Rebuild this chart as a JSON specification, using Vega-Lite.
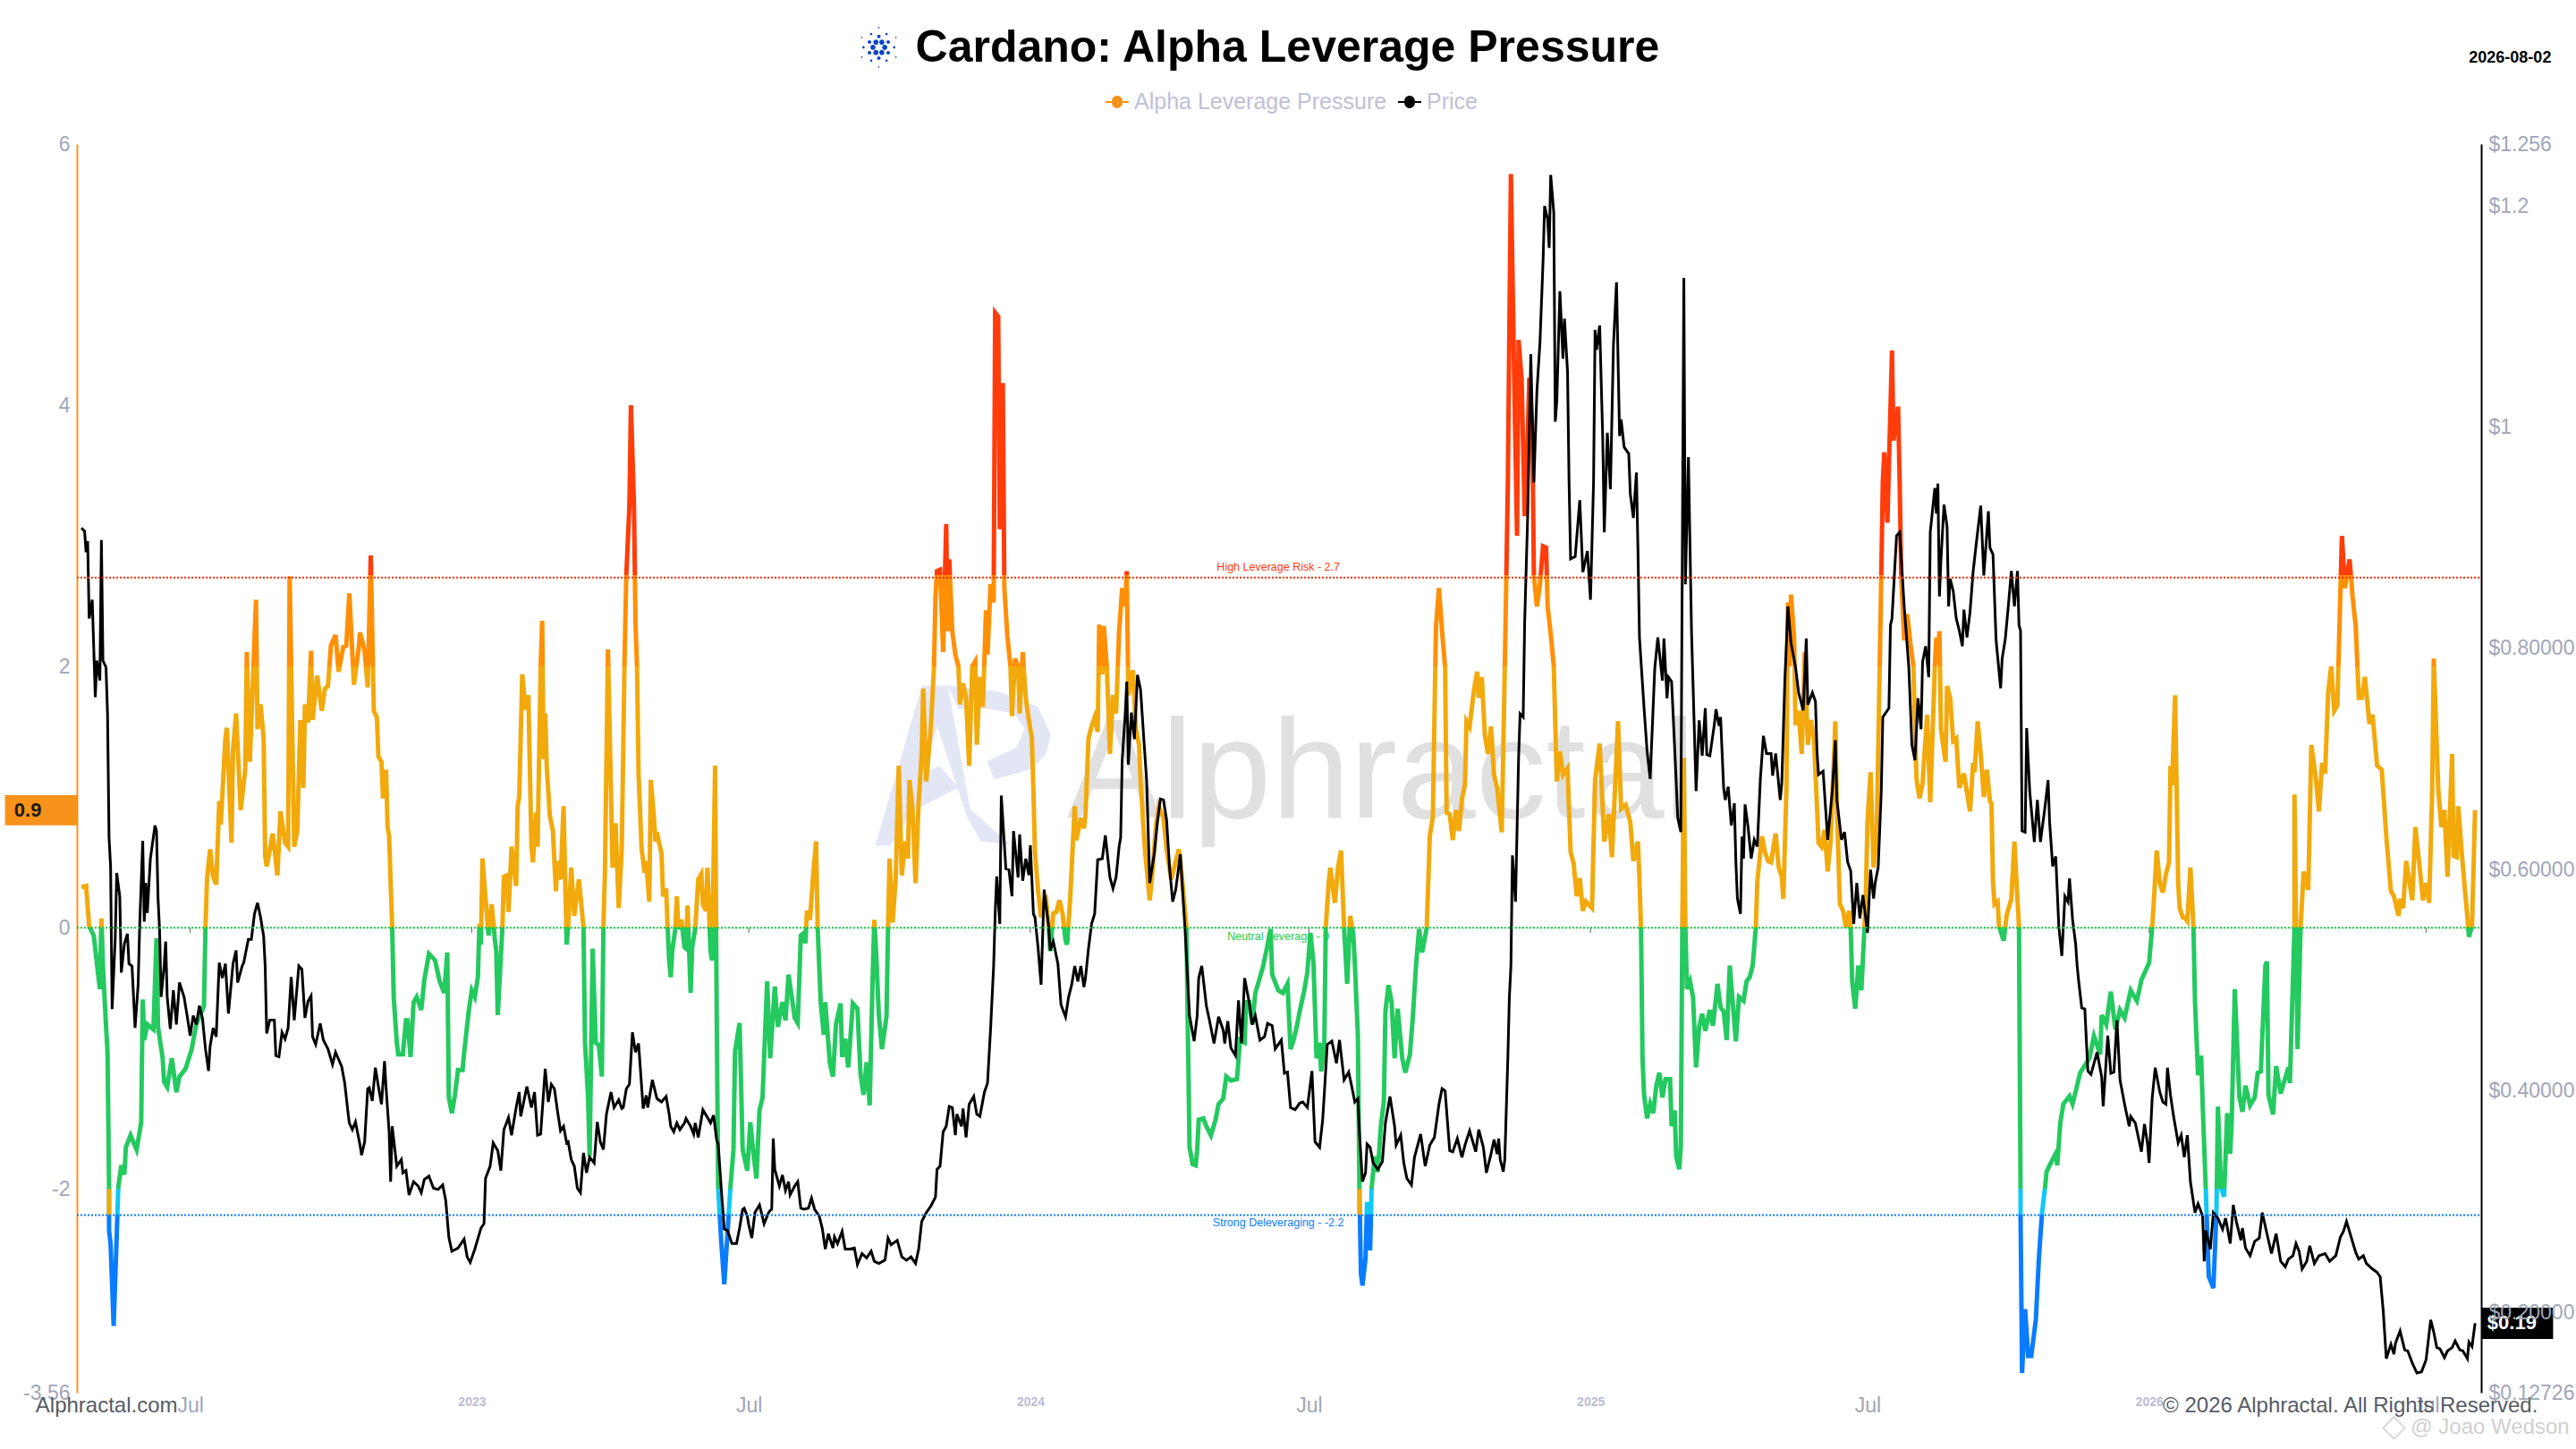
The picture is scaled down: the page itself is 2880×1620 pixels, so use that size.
{"$schema":"https://vega.github.io/schema/vega-lite/v6.json","width":2688,"height":1396,"autosize":{"type":"none"},"padding":{"left":86,"top":161,"right":106,"bottom":63},"background":"white",
"config":{"view":{"stroke":null},"font":"Liberation Sans"},
"datasets":{
"alpha":[{"date":"2022-04-21","value":0.31},{"date":"2022-04-24","value":0.32},{"date":"2022-04-26","value":0.01},{"date":"2022-04-29","value":-0.06},{"date":"2022-05-01","value":-0.27},{"date":"2022-05-03","value":-0.47},{"date":"2022-05-04","value":0.07},{"date":"2022-05-05","value":-0.29},{"date":"2022-05-07","value":-0.75},{"date":"2022-05-08","value":-0.95},{"date":"2022-05-09","value":-1.99},{"date":"2022-05-09","value":-2.32},{"date":"2022-05-10","value":-2.42},{"date":"2022-05-12","value":-3.05},{"date":"2022-05-14","value":-2.36},{"date":"2022-05-15","value":-1.99},{"date":"2022-05-17","value":-1.82},{"date":"2022-05-19","value":-1.89},{"date":"2022-05-20","value":-1.68},{"date":"2022-05-23","value":-1.59},{"date":"2022-05-27","value":-1.7},{"date":"2022-05-30","value":-1.49},{"date":"2022-05-31","value":-0.55},{"date":"2022-06-01","value":-0.86},{"date":"2022-06-03","value":-0.74},{"date":"2022-06-07","value":-0.78},{"date":"2022-06-09","value":-0.08},{"date":"2022-06-10","value":-0.76},{"date":"2022-06-13","value":-1.0},{"date":"2022-06-14","value":-1.18},{"date":"2022-06-16","value":-1.22},{"date":"2022-06-19","value":-1.0},{"date":"2022-06-22","value":-1.26},{"date":"2022-06-24","value":-1.14},{"date":"2022-06-28","value":-1.08},{"date":"2022-07-02","value":-0.93},{"date":"2022-07-05","value":-0.74},{"date":"2022-07-10","value":-0.6},{"date":"2022-07-11","value":0},{"date":"2022-07-12","value":0.37},{"date":"2022-07-14","value":0.6},{"date":"2022-07-16","value":0.39},{"date":"2022-07-18","value":0.33},{"date":"2022-07-20","value":0.97},{"date":"2022-07-21","value":0.79},{"date":"2022-07-24","value":1.45},{"date":"2022-07-25","value":1.53},{"date":"2022-07-28","value":0.65},{"date":"2022-07-29","value":1.36},{"date":"2022-07-31","value":1.64},{"date":"2022-08-03","value":0.9},{"date":"2022-08-06","value":1.21},{"date":"2022-08-07","value":2.11},{"date":"2022-08-09","value":1.27},{"date":"2022-08-13","value":2.51},{"date":"2022-08-14","value":1.52},{"date":"2022-08-16","value":1.71},{"date":"2022-08-18","value":1.45},{"date":"2022-08-19","value":0.55},{"date":"2022-08-20","value":0.47},{"date":"2022-08-24","value":0.72},{"date":"2022-08-27","value":0.4},{"date":"2022-08-29","value":0.89},{"date":"2022-09-01","value":0.65},{"date":"2022-09-03","value":0.62},{"date":"2022-09-04","value":2.69},{"date":"2022-09-07","value":0.62},{"date":"2022-09-09","value":0.74},{"date":"2022-09-11","value":1.59},{"date":"2022-09-13","value":1.07},{"date":"2022-09-14","value":1.71},{"date":"2022-09-16","value":1.57},{"date":"2022-09-18","value":2.12},{"date":"2022-09-19","value":1.59},{"date":"2022-09-22","value":1.93},{"date":"2022-09-25","value":1.66},{"date":"2022-09-27","value":1.83},{"date":"2022-09-29","value":1.85},{"date":"2022-10-01","value":2.16},{"date":"2022-10-04","value":2.24},{"date":"2022-10-06","value":1.96},{"date":"2022-10-09","value":2.15},{"date":"2022-10-11","value":2.16},{"date":"2022-10-13","value":2.56},{"date":"2022-10-16","value":1.86},{"date":"2022-10-19","value":2.13},{"date":"2022-10-20","value":2.26},{"date":"2022-10-23","value":2.12},{"date":"2022-10-25","value":1.84},{"date":"2022-10-27","value":2.85},{"date":"2022-10-29","value":1.66},{"date":"2022-10-31","value":1.61},{"date":"2022-11-01","value":1.31},{"date":"2022-11-03","value":1.27},{"date":"2022-11-04","value":0.99},{"date":"2022-11-06","value":1.21},{"date":"2022-11-07","value":0.77},{"date":"2022-11-08","value":0.7},{"date":"2022-11-10","value":0},{"date":"2022-11-11","value":-0.53},{"date":"2022-11-13","value":-0.88},{"date":"2022-11-14","value":-0.97},{"date":"2022-11-17","value":-0.97},{"date":"2022-11-19","value":-0.71},{"date":"2022-11-20","value":-0.71},{"date":"2022-11-22","value":-0.99},{"date":"2022-11-24","value":-0.57},{"date":"2022-11-26","value":-0.53},{"date":"2022-11-29","value":-0.63},{"date":"2022-12-01","value":-0.4},{"date":"2022-12-04","value":-0.2},{"date":"2022-12-08","value":-0.25},{"date":"2022-12-11","value":-0.41},{"date":"2022-12-14","value":-0.5},{"date":"2022-12-16","value":-0.19},{"date":"2022-12-17","value":-1.3},{"date":"2022-12-19","value":-1.42},{"date":"2022-12-21","value":-1.28},{"date":"2022-12-23","value":-1.09},{"date":"2022-12-26","value":-1.09},{"date":"2022-12-27","value":-0.96},{"date":"2022-12-30","value":-0.64},{"date":"2023-01-01","value":-0.48},{"date":"2023-01-03","value":-0.53},{"date":"2023-01-05","value":-0.38},{"date":"2023-01-06","value":0.03},{"date":"2023-01-07","value":-0.13},{"date":"2023-01-08","value":0.53},{"date":"2023-01-10","value":0.22},{"date":"2023-01-12","value":-0.06},{"date":"2023-01-14","value":0.18},{"date":"2023-01-16","value":-0.08},{"date":"2023-01-17","value":-0.18},{"date":"2023-01-18","value":-0.67},{"date":"2023-01-21","value":0},{"date":"2023-01-22","value":0.39},{"date":"2023-01-24","value":0.4},{"date":"2023-01-25","value":0.12},{"date":"2023-01-27","value":0.62},{"date":"2023-01-30","value":0.32},{"date":"2023-01-31","value":0.93},{"date":"2023-02-01","value":1.0},{"date":"2023-02-03","value":1.94},{"date":"2023-02-05","value":1.67},{"date":"2023-02-07","value":1.78},{"date":"2023-02-09","value":0.62},{"date":"2023-02-10","value":0.5},{"date":"2023-02-12","value":0.88},{"date":"2023-02-13","value":0.62},{"date":"2023-02-15","value":1.99},{"date":"2023-02-16","value":2.35},{"date":"2023-02-17","value":1.29},{"date":"2023-02-18","value":1.64},{"date":"2023-02-19","value":1.23},{"date":"2023-02-21","value":0.86},{"date":"2023-02-23","value":0.74},{"date":"2023-02-25","value":0.28},{"date":"2023-02-26","value":0.51},{"date":"2023-02-28","value":0.37},{"date":"2023-03-02","value":0.93},{"date":"2023-03-04","value":-0.13},{"date":"2023-03-05","value":0.01},{"date":"2023-03-07","value":0.46},{"date":"2023-03-09","value":0.09},{"date":"2023-03-12","value":0.37},{"date":"2023-03-13","value":0.25},{"date":"2023-03-15","value":0},{"date":"2023-03-16","value":-0.88},{"date":"2023-03-18","value":-1.3},{"date":"2023-03-19","value":-1.75},{"date":"2023-03-21","value":-0.16},{"date":"2023-03-23","value":-0.88},{"date":"2023-03-25","value":-0.9},{"date":"2023-03-27","value":-1.14},{"date":"2023-03-28","value":0},{"date":"2023-03-29","value":0.42},{"date":"2023-03-31","value":2.13},{"date":"2023-04-03","value":0.46},{"date":"2023-04-05","value":0.8},{"date":"2023-04-07","value":0.15},{"date":"2023-04-09","value":0.6},{"date":"2023-04-11","value":2.16},{"date":"2023-04-12","value":2.7},{"date":"2023-04-14","value":3.23},{"date":"2023-04-15","value":4.0},{"date":"2023-04-17","value":3.23},{"date":"2023-04-18","value":2.32},{"date":"2023-04-19","value":1.99},{"date":"2023-04-20","value":1.17},{"date":"2023-04-22","value":0.6},{"date":"2023-04-24","value":0.42},{"date":"2023-04-25","value":0.51},{"date":"2023-04-27","value":0.2},{"date":"2023-04-28","value":1.13},{"date":"2023-04-30","value":0.85},{"date":"2023-05-01","value":0.66},{"date":"2023-05-02","value":0.73},{"date":"2023-05-03","value":0.67},{"date":"2023-05-05","value":0.57},{"date":"2023-05-06","value":0.24},{"date":"2023-05-08","value":0.3},{"date":"2023-05-09","value":0},{"date":"2023-05-10","value":-0.25},{"date":"2023-05-11","value":-0.38},{"date":"2023-05-12","value":-0.18},{"date":"2023-05-14","value":-0.01},{"date":"2023-05-15","value":0.24},{"date":"2023-05-16","value":-0.01},{"date":"2023-05-18","value":0.06},{"date":"2023-05-20","value":-0.15},{"date":"2023-05-21","value":-0.16},{"date":"2023-05-22","value":0.17},{"date":"2023-05-24","value":-0.5},{"date":"2023-05-25","value":-0.15},{"date":"2023-05-27","value":-0.01},{"date":"2023-05-29","value":0.37},{"date":"2023-05-31","value":0.41},{"date":"2023-06-01","value":0.18},{"date":"2023-06-03","value":0.13},{"date":"2023-06-04","value":0.46},{"date":"2023-06-06","value":-0.18},{"date":"2023-06-07","value":-0.25},{"date":"2023-06-09","value":1.24},{"date":"2023-06-10","value":-0.6},{"date":"2023-06-11","value":-1.99},{"date":"2023-06-13","value":-2.4},{"date":"2023-06-15","value":-2.73},{"date":"2023-06-17","value":-2.36},{"date":"2023-06-19","value":-1.99},{"date":"2023-06-21","value":-1.7},{"date":"2023-06-22","value":-0.95},{"date":"2023-06-25","value":-0.73},{"date":"2023-06-27","value":-1.7},{"date":"2023-06-30","value":-1.86},{"date":"2023-07-02","value":-1.49},{"date":"2023-07-04","value":-1.72},{"date":"2023-07-06","value":-1.92},{"date":"2023-07-08","value":-1.4},{"date":"2023-07-10","value":-1.3},{"date":"2023-07-13","value":-0.41},{"date":"2023-07-15","value":-1.0},{"date":"2023-07-18","value":-0.45},{"date":"2023-07-20","value":-0.76},{"date":"2023-07-23","value":-0.57},{"date":"2023-07-25","value":-0.71},{"date":"2023-07-27","value":-0.36},{"date":"2023-07-31","value":-0.69},{"date":"2023-08-02","value":-0.73},{"date":"2023-08-04","value":-0.06},{"date":"2023-08-06","value":-0.04},{"date":"2023-08-07","value":-0.12},{"date":"2023-08-08","value":0.13},{"date":"2023-08-10","value":0.06},{"date":"2023-08-12","value":0.39},{"date":"2023-08-14","value":0.66},{"date":"2023-08-15","value":0},{"date":"2023-08-17","value":-0.57},{"date":"2023-08-19","value":-0.82},{"date":"2023-08-20","value":-0.57},{"date":"2023-08-23","value":-1.04},{"date":"2023-08-25","value":-1.14},{"date":"2023-08-27","value":-0.74},{"date":"2023-08-30","value":-0.58},{"date":"2023-08-31","value":-0.99},{"date":"2023-09-02","value":-0.85},{"date":"2023-09-04","value":-1.07},{"date":"2023-09-07","value":-0.58},{"date":"2023-09-10","value":-0.62},{"date":"2023-09-12","value":-1.12},{"date":"2023-09-14","value":-1.28},{"date":"2023-09-16","value":-1.03},{"date":"2023-09-18","value":-1.36},{"date":"2023-09-20","value":-0.36},{"date":"2023-09-21","value":0.06},{"date":"2023-09-22","value":-0.13},{"date":"2023-09-24","value":-0.67},{"date":"2023-09-26","value":-0.93},{"date":"2023-09-29","value":-0.68},{"date":"2023-09-30","value":0},{"date":"2023-10-01","value":0.53},{"date":"2023-10-03","value":0.04},{"date":"2023-10-05","value":0.37},{"date":"2023-10-07","value":1.24},{"date":"2023-10-09","value":0.4},{"date":"2023-10-11","value":0.66},{"date":"2023-10-13","value":0.53},{"date":"2023-10-14","value":1.13},{"date":"2023-10-16","value":0.91},{"date":"2023-10-18","value":0.34},{"date":"2023-10-20","value":0.96},{"date":"2023-10-22","value":1.33},{"date":"2023-10-23","value":1.83},{"date":"2023-10-25","value":1.12},{"date":"2023-10-28","value":1.54},{"date":"2023-10-30","value":1.99},{"date":"2023-10-31","value":2.53},{"date":"2023-11-01","value":2.73},{"date":"2023-11-03","value":2.74},{"date":"2023-11-05","value":2.11},{"date":"2023-11-07","value":3.09},{"date":"2023-11-08","value":2.27},{"date":"2023-11-09","value":2.82},{"date":"2023-11-11","value":2.27},{"date":"2023-11-13","value":2.09},{"date":"2023-11-15","value":2.0},{"date":"2023-11-16","value":1.71},{"date":"2023-11-18","value":1.87},{"date":"2023-11-20","value":1.76},{"date":"2023-11-22","value":1.24},{"date":"2023-11-24","value":2.0},{"date":"2023-11-26","value":2.04},{"date":"2023-11-27","value":1.4},{"date":"2023-11-29","value":1.92},{"date":"2023-12-01","value":1.69},{"date":"2023-12-03","value":2.43},{"date":"2023-12-04","value":2.09},{"date":"2023-12-06","value":2.63},{"date":"2023-12-08","value":2.49},{"date":"2023-12-09","value":4.71},{"date":"2023-12-11","value":4.68},{"date":"2023-12-12","value":3.05},{"date":"2023-12-14","value":4.17},{"date":"2023-12-15","value":2.6},{"date":"2023-12-17","value":2.23},{"date":"2023-12-19","value":2.0},{"date":"2023-12-20","value":1.62},{"date":"2023-12-22","value":2.06},{"date":"2023-12-24","value":2.0},{"date":"2023-12-25","value":1.64},{"date":"2023-12-27","value":2.11},{"date":"2023-12-29","value":1.76},{"date":"2023-12-31","value":1.59},{"date":"2024-01-02","value":1.45},{"date":"2024-01-03","value":1.05},{"date":"2024-01-04","value":0.58},{"date":"2024-01-06","value":0.29},{"date":"2024-01-08","value":0.08},{"date":"2024-01-11","value":0.25},{"date":"2024-01-13","value":0},{"date":"2024-01-14","value":-0.18},{"date":"2024-01-16","value":0.11},{"date":"2024-01-18","value":0.12},{"date":"2024-01-20","value":0.21},{"date":"2024-01-22","value":0.11},{"date":"2024-01-24","value":-0.1},{"date":"2024-01-25","value":-0.13},{"date":"2024-01-27","value":0.22},{"date":"2024-01-30","value":0.93},{"date":"2024-01-31","value":0.67},{"date":"2024-02-03","value":0.84},{"date":"2024-02-05","value":0.76},{"date":"2024-02-06","value":0.86},{"date":"2024-02-08","value":1.45},{"date":"2024-02-10","value":1.54},{"date":"2024-02-12","value":1.61},{"date":"2024-02-14","value":1.5},{"date":"2024-02-15","value":2.32},{"date":"2024-02-17","value":1.94},{"date":"2024-02-18","value":2.31},{"date":"2024-02-20","value":1.99},{"date":"2024-02-22","value":1.33},{"date":"2024-02-24","value":1.78},{"date":"2024-02-26","value":1.64},{"date":"2024-02-28","value":2.27},{"date":"2024-03-01","value":2.6},{"date":"2024-03-03","value":2.46},{"date":"2024-03-04","value":2.73},{"date":"2024-03-05","value":1.78},{"date":"2024-03-08","value":1.97},{"date":"2024-03-10","value":1.52},{"date":"2024-03-12","value":1.4},{"date":"2024-03-13","value":1.12},{"date":"2024-03-16","value":0.58},{"date":"2024-03-19","value":0.21},{"date":"2024-03-21","value":0.46},{"date":"2024-03-23","value":0.77},{"date":"2024-03-25","value":0.93},{"date":"2024-03-28","value":0.84},{"date":"2024-03-30","value":0.6},{"date":"2024-04-02","value":0.37},{"date":"2024-04-07","value":0.6},{"date":"2024-04-09","value":0.39},{"date":"2024-04-12","value":0},{"date":"2024-04-13","value":-0.86},{"date":"2024-04-14","value":-1.68},{"date":"2024-04-16","value":-1.81},{"date":"2024-04-18","value":-1.82},{"date":"2024-04-19","value":-1.7},{"date":"2024-04-20","value":-1.47},{"date":"2024-04-23","value":-1.46},{"date":"2024-04-25","value":-1.52},{"date":"2024-04-28","value":-1.59},{"date":"2024-05-01","value":-1.47},{"date":"2024-05-03","value":-1.35},{"date":"2024-05-06","value":-1.31},{"date":"2024-05-08","value":-1.14},{"date":"2024-05-11","value":-1.17},{"date":"2024-05-15","value":-1.16},{"date":"2024-05-17","value":-0.86},{"date":"2024-05-20","value":-0.88},{"date":"2024-05-21","value":-0.57},{"date":"2024-05-23","value":-0.57},{"date":"2024-05-25","value":-0.74},{"date":"2024-05-27","value":-0.5},{"date":"2024-05-30","value":-0.38},{"date":"2024-06-01","value":-0.3},{"date":"2024-06-04","value":-0.13},{"date":"2024-06-06","value":-0.01},{"date":"2024-06-07","value":-0.36},{"date":"2024-06-11","value":-0.48},{"date":"2024-06-14","value":-0.5},{"date":"2024-06-17","value":-0.43},{"date":"2024-06-19","value":-0.93},{"date":"2024-06-21","value":-0.86},{"date":"2024-06-23","value":-0.76},{"date":"2024-06-25","value":-0.64},{"date":"2024-06-28","value":-0.48},{"date":"2024-06-30","value":-0.34},{"date":"2024-07-02","value":-0.04},{"date":"2024-07-04","value":-0.27},{"date":"2024-07-06","value":-1.0},{"date":"2024-07-08","value":-0.88},{"date":"2024-07-09","value":-1.1},{"date":"2024-07-11","value":-0.95},{"date":"2024-07-12","value":0},{"date":"2024-07-14","value":0.35},{"date":"2024-07-15","value":0.46},{"date":"2024-07-18","value":0.19},{"date":"2024-07-20","value":0.46},{"date":"2024-07-22","value":0.59},{"date":"2024-07-24","value":0},{"date":"2024-07-26","value":-0.43},{"date":"2024-07-28","value":0.09},{"date":"2024-07-30","value":-0.05},{"date":"2024-07-31","value":-0.27},{"date":"2024-08-02","value":-0.83},{"date":"2024-08-03","value":-1.99},{"date":"2024-08-04","value":-2.65},{"date":"2024-08-05","value":-2.74},{"date":"2024-08-07","value":-2.53},{"date":"2024-08-08","value":-2.1},{"date":"2024-08-09","value":-2.34},{"date":"2024-08-10","value":-2.47},{"date":"2024-08-11","value":-1.99},{"date":"2024-08-13","value":-1.75},{"date":"2024-08-15","value":-1.87},{"date":"2024-08-17","value":-1.52},{"date":"2024-08-19","value":-1.33},{"date":"2024-08-20","value":-0.64},{"date":"2024-08-22","value":-0.44},{"date":"2024-08-24","value":-0.57},{"date":"2024-08-26","value":-1.0},{"date":"2024-08-28","value":-0.62},{"date":"2024-08-31","value":-1.0},{"date":"2024-09-02","value":-1.11},{"date":"2024-09-05","value":-0.97},{"date":"2024-09-07","value":-0.67},{"date":"2024-09-09","value":-0.29},{"date":"2024-09-11","value":-0.01},{"date":"2024-09-13","value":-0.19},{"date":"2024-09-16","value":0},{"date":"2024-09-18","value":0.7},{"date":"2024-09-20","value":0.85},{"date":"2024-09-22","value":2.3},{"date":"2024-09-24","value":2.6},{"date":"2024-09-26","value":2.27},{"date":"2024-09-28","value":1.99},{"date":"2024-09-29","value":0.88},{"date":"2024-10-01","value":0.87},{"date":"2024-10-03","value":0.67},{"date":"2024-10-05","value":0.9},{"date":"2024-10-07","value":0.74},{"date":"2024-10-09","value":0.98},{"date":"2024-10-11","value":1.1},{"date":"2024-10-12","value":1.58},{"date":"2024-10-14","value":1.54},{"date":"2024-10-17","value":1.83},{"date":"2024-10-19","value":1.96},{"date":"2024-10-20","value":1.76},{"date":"2024-10-22","value":1.92},{"date":"2024-10-24","value":1.47},{"date":"2024-10-26","value":1.33},{"date":"2024-10-28","value":1.54},{"date":"2024-10-30","value":1.17},{"date":"2024-11-01","value":1.07},{"date":"2024-11-04","value":0.73},{"date":"2024-11-06","value":1.99},{"date":"2024-11-07","value":2.68},{"date":"2024-11-08","value":3.41},{"date":"2024-11-10","value":5.77},{"date":"2024-11-12","value":4.3},{"date":"2024-11-14","value":3.0},{"date":"2024-11-15","value":4.5},{"date":"2024-11-17","value":4.2},{"date":"2024-11-19","value":3.15},{"date":"2024-11-21","value":3.76},{"date":"2024-11-22","value":4.21},{"date":"2024-11-24","value":3.8},{"date":"2024-11-25","value":2.7},{"date":"2024-11-27","value":2.46},{"date":"2024-11-29","value":2.63},{"date":"2024-12-01","value":2.92},{"date":"2024-12-03","value":2.91},{"date":"2024-12-04","value":2.46},{"date":"2024-12-06","value":2.25},{"date":"2024-12-08","value":2.0},{"date":"2024-12-10","value":1.12},{"date":"2024-12-12","value":1.35},{"date":"2024-12-14","value":1.17},{"date":"2024-12-17","value":1.22},{"date":"2024-12-19","value":0.58},{"date":"2024-12-21","value":0.49},{"date":"2024-12-23","value":0.24},{"date":"2024-12-25","value":0.38},{"date":"2024-12-27","value":0.13},{"date":"2024-12-29","value":0.2},{"date":"2025-01-02","value":0.15},{"date":"2025-01-04","value":1.13},{"date":"2025-01-07","value":1.41},{"date":"2025-01-10","value":0.66},{"date":"2025-01-13","value":0.87},{"date":"2025-01-15","value":0.54},{"date":"2025-01-19","value":1.58},{"date":"2025-01-21","value":0.91},{"date":"2025-01-24","value":0.94},{"date":"2025-01-27","value":0.81},{"date":"2025-01-29","value":0.51},{"date":"2025-02-01","value":0.66},{"date":"2025-02-02","value":0.37},{"date":"2025-02-03","value":0},{"date":"2025-02-04","value":-1.0},{"date":"2025-02-05","value":-1.28},{"date":"2025-02-07","value":-1.46},{"date":"2025-02-09","value":-1.35},{"date":"2025-02-11","value":-1.42},{"date":"2025-02-13","value":-1.21},{"date":"2025-02-15","value":-1.11},{"date":"2025-02-17","value":-1.3},{"date":"2025-02-19","value":-1.16},{"date":"2025-02-22","value":-1.16},{"date":"2025-02-23","value":-1.52},{"date":"2025-02-25","value":-1.4},{"date":"2025-02-26","value":-1.75},{"date":"2025-02-28","value":-1.85},{"date":"2025-03-01","value":-1.68},{"date":"2025-03-02","value":0},{"date":"2025-03-03","value":1.3},{"date":"2025-03-04","value":0},{"date":"2025-03-05","value":-0.47},{"date":"2025-03-07","value":-0.41},{"date":"2025-03-09","value":-0.53},{"date":"2025-03-11","value":-1.07},{"date":"2025-03-13","value":-0.76},{"date":"2025-03-15","value":-0.66},{"date":"2025-03-17","value":-0.79},{"date":"2025-03-20","value":-0.63},{"date":"2025-03-22","value":-0.75},{"date":"2025-03-25","value":-0.43},{"date":"2025-03-27","value":-0.61},{"date":"2025-03-29","value":-0.64},{"date":"2025-03-31","value":-0.86},{"date":"2025-04-02","value":-0.29},{"date":"2025-04-06","value":-0.87},{"date":"2025-04-08","value":-0.53},{"date":"2025-04-11","value":-0.56},{"date":"2025-04-13","value":-0.41},{"date":"2025-04-15","value":-0.38},{"date":"2025-04-17","value":-0.29},{"date":"2025-04-19","value":0},{"date":"2025-04-20","value":0.35},{"date":"2025-04-23","value":0.7},{"date":"2025-04-25","value":0.58},{"date":"2025-04-27","value":0.51},{"date":"2025-04-29","value":0.5},{"date":"2025-05-02","value":0.72},{"date":"2025-05-04","value":0.46},{"date":"2025-05-06","value":0.39},{"date":"2025-05-07","value":0.22},{"date":"2025-05-09","value":1.05},{"date":"2025-05-10","value":2.49},{"date":"2025-05-11","value":2.0},{"date":"2025-05-12","value":2.55},{"date":"2025-05-14","value":2.23},{"date":"2025-05-15","value":1.55},{"date":"2025-05-17","value":1.66},{"date":"2025-05-19","value":1.33},{"date":"2025-05-21","value":2.11},{"date":"2025-05-23","value":1.4},{"date":"2025-05-25","value":1.59},{"date":"2025-05-27","value":1.45},{"date":"2025-05-29","value":0.93},{"date":"2025-05-30","value":0.65},{"date":"2025-06-01","value":0.62},{"date":"2025-06-03","value":0.75},{"date":"2025-06-05","value":0.43},{"date":"2025-06-07","value":0.68},{"date":"2025-06-10","value":1.58},{"date":"2025-06-11","value":0.93},{"date":"2025-06-13","value":0.18},{"date":"2025-06-15","value":0.13},{"date":"2025-06-17","value":0},{"date":"2025-06-19","value":0.13},{"date":"2025-06-20","value":0},{"date":"2025-06-21","value":-0.41},{"date":"2025-06-23","value":-0.62},{"date":"2025-06-25","value":-0.29},{"date":"2025-06-27","value":-0.48},{"date":"2025-06-29","value":0},{"date":"2025-06-30","value":0.29},{"date":"2025-07-01","value":0.81},{"date":"2025-07-03","value":1.19},{"date":"2025-07-05","value":0.46},{"date":"2025-07-07","value":0.7},{"date":"2025-07-09","value":2.0},{"date":"2025-07-10","value":2.68},{"date":"2025-07-11","value":3.41},{"date":"2025-07-12","value":3.64},{"date":"2025-07-14","value":3.1},{"date":"2025-07-15","value":3.53},{"date":"2025-07-17","value":4.42},{"date":"2025-07-18","value":3.73},{"date":"2025-07-21","value":3.99},{"date":"2025-07-22","value":3.43},{"date":"2025-07-23","value":2.7},{"date":"2025-07-25","value":2.2},{"date":"2025-07-27","value":2.4},{"date":"2025-07-29","value":2.18},{"date":"2025-07-31","value":2.0},{"date":"2025-08-02","value":1.14},{"date":"2025-08-04","value":0.99},{"date":"2025-08-06","value":1.1},{"date":"2025-08-07","value":1.29},{"date":"2025-08-09","value":1.63},{"date":"2025-08-11","value":0.96},{"date":"2025-08-14","value":2.0},{"date":"2025-08-15","value":2.22},{"date":"2025-08-16","value":2.02},{"date":"2025-08-17","value":2.27},{"date":"2025-08-18","value":1.52},{"date":"2025-08-21","value":1.27},{"date":"2025-08-22","value":1.85},{"date":"2025-08-24","value":1.76},{"date":"2025-08-26","value":1.43},{"date":"2025-08-28","value":1.45},{"date":"2025-08-30","value":1.07},{"date":"2025-09-02","value":1.18},{"date":"2025-09-06","value":0.89},{"date":"2025-09-08","value":1.26},{"date":"2025-09-09","value":1.19},{"date":"2025-09-11","value":1.58},{"date":"2025-09-13","value":1.33},{"date":"2025-09-15","value":1.0},{"date":"2025-09-17","value":1.21},{"date":"2025-09-19","value":0.97},{"date":"2025-09-20","value":0.95},{"date":"2025-09-21","value":0.35},{"date":"2025-09-22","value":0.18},{"date":"2025-09-24","value":0.2},{"date":"2025-09-25","value":0.01},{"date":"2025-09-28","value":-0.1},{"date":"2025-09-30","value":0.1},{"date":"2025-10-03","value":0.22},{"date":"2025-10-05","value":0.66},{"date":"2025-10-08","value":0},{"date":"2025-10-09","value":-1.99},{"date":"2025-10-09","value":-2.18},{"date":"2025-10-10","value":-3.41},{"date":"2025-10-12","value":-2.92},{"date":"2025-10-14","value":-3.28},{"date":"2025-10-16","value":-3.28},{"date":"2025-10-19","value":-3.0},{"date":"2025-10-21","value":-2.53},{"date":"2025-10-23","value":-2.19},{"date":"2025-10-25","value":-1.99},{"date":"2025-10-26","value":-1.87},{"date":"2025-10-28","value":-1.82},{"date":"2025-11-01","value":-1.73},{"date":"2025-11-02","value":-1.82},{"date":"2025-11-04","value":-1.49},{"date":"2025-11-06","value":-1.35},{"date":"2025-11-10","value":-1.29},{"date":"2025-11-12","value":-1.35},{"date":"2025-11-17","value":-1.11},{"date":"2025-11-23","value":-1.0},{"date":"2025-11-26","value":-0.83},{"date":"2025-11-30","value":-0.97},{"date":"2025-12-01","value":-0.67},{"date":"2025-12-04","value":-0.74},{"date":"2025-12-07","value":-0.49},{"date":"2025-12-10","value":-0.78},{"date":"2025-12-13","value":-0.63},{"date":"2025-12-16","value":-0.69},{"date":"2025-12-20","value":-0.48},{"date":"2025-12-24","value":-0.56},{"date":"2025-12-27","value":-0.4},{"date":"2026-01-01","value":-0.27},{"date":"2026-01-03","value":0},{"date":"2026-01-04","value":0.18},{"date":"2026-01-06","value":0.59},{"date":"2026-01-08","value":0.34},{"date":"2026-01-10","value":0.27},{"date":"2026-01-12","value":0.41},{"date":"2026-01-14","value":0.5},{"date":"2026-01-15","value":1.24},{"date":"2026-01-16","value":1.09},{"date":"2026-01-18","value":1.78},{"date":"2026-01-20","value":0.34},{"date":"2026-01-21","value":0.15},{"date":"2026-01-23","value":0.08},{"date":"2026-01-24","value":0.08},{"date":"2026-01-26","value":0.05},{"date":"2026-01-28","value":0.46},{"date":"2026-01-30","value":0},{"date":"2026-01-31","value":-0.57},{"date":"2026-02-02","value":-1.13},{"date":"2026-02-04","value":-0.98},{"date":"2026-02-05","value":-1.35},{"date":"2026-02-07","value":-1.99},{"date":"2026-02-09","value":-2.67},{"date":"2026-02-12","value":-2.76},{"date":"2026-02-14","value":-2.18},{"date":"2026-02-15","value":-1.37},{"date":"2026-02-17","value":-1.99},{"date":"2026-02-19","value":-2.06},{"date":"2026-02-21","value":-1.42},{"date":"2026-02-23","value":-1.73},{"date":"2026-02-24","value":-1.47},{"date":"2026-02-26","value":-0.47},{"date":"2026-03-01","value":-1.3},{"date":"2026-03-03","value":-1.41},{"date":"2026-03-05","value":-1.21},{"date":"2026-03-08","value":-1.36},{"date":"2026-03-11","value":-1.3},{"date":"2026-03-13","value":-1.11},{"date":"2026-03-15","value":-1.1},{"date":"2026-03-18","value":-0.29},{"date":"2026-03-19","value":-0.26},{"date":"2026-03-20","value":-1.28},{"date":"2026-03-23","value":-1.43},{"date":"2026-03-25","value":-1.06},{"date":"2026-03-28","value":-1.27},{"date":"2026-04-02","value":-1.07},{"date":"2026-04-03","value":-1.19},{"date":"2026-04-06","value":0},{"date":"2026-04-06","value":1.02},{"date":"2026-04-08","value":-0.93},{"date":"2026-04-10","value":0},{"date":"2026-04-12","value":0.43},{"date":"2026-04-15","value":0.29},{"date":"2026-04-17","value":1.4},{"date":"2026-04-20","value":1.14},{"date":"2026-04-22","value":0.89},{"date":"2026-04-24","value":1.26},{"date":"2026-04-26","value":1.18},{"date":"2026-04-28","value":1.8},{"date":"2026-04-30","value":2.0},{"date":"2026-05-02","value":1.66},{"date":"2026-05-04","value":1.7},{"date":"2026-05-07","value":3.0},{"date":"2026-05-09","value":2.6},{"date":"2026-05-12","value":2.82},{"date":"2026-05-14","value":2.53},{"date":"2026-05-16","value":2.31},{"date":"2026-05-18","value":1.76},{"date":"2026-05-20","value":1.76},{"date":"2026-05-22","value":1.92},{"date":"2026-05-25","value":1.56},{"date":"2026-05-27","value":1.63},{"date":"2026-05-30","value":1.24},{"date":"2026-06-02","value":1.21},{"date":"2026-06-05","value":0.7},{"date":"2026-06-08","value":0.28},{"date":"2026-06-10","value":0.24},{"date":"2026-06-13","value":0.09},{"date":"2026-06-14","value":0.22},{"date":"2026-06-16","value":0.15},{"date":"2026-06-18","value":0.51},{"date":"2026-06-22","value":0.21},{"date":"2026-06-24","value":0.77},{"date":"2026-06-27","value":0.44},{"date":"2026-06-29","value":0.21},{"date":"2026-07-01","value":0.34},{"date":"2026-07-03","value":0.19},{"date":"2026-07-05","value":1.05},{"date":"2026-07-06","value":2.06},{"date":"2026-07-09","value":1.05},{"date":"2026-07-11","value":0.77},{"date":"2026-07-13","value":0.9},{"date":"2026-07-15","value":0.39},{"date":"2026-07-18","value":1.33},{"date":"2026-07-19","value":0.55},{"date":"2026-07-21","value":0.54},{"date":"2026-07-22","value":0.93},{"date":"2026-07-24","value":0.62},{"date":"2026-07-26","value":0.34},{"date":"2026-07-28","value":0.08},{"date":"2026-07-29","value":-0.07},{"date":"2026-07-31","value":0.01},{"date":"2026-08-02","value":0.9}],
"price":[{"date":"2022-04-21","value":0.909},{"date":"2022-04-23","value":0.906},{"date":"2022-04-24","value":0.887},{"date":"2022-04-25","value":0.897},{"date":"2022-04-26","value":0.827},{"date":"2022-04-28","value":0.844},{"date":"2022-04-30","value":0.756},{"date":"2022-05-01","value":0.789},{"date":"2022-05-03","value":0.771},{"date":"2022-05-04","value":0.898},{"date":"2022-05-05","value":0.789},{"date":"2022-05-07","value":0.783},{"date":"2022-05-08","value":0.741},{"date":"2022-05-09","value":0.629},{"date":"2022-05-10","value":0.603},{"date":"2022-05-11","value":0.474},{"date":"2022-05-13","value":0.537},{"date":"2022-05-14","value":0.597},{"date":"2022-05-16","value":0.576},{"date":"2022-05-17","value":0.507},{"date":"2022-05-19","value":0.533},{"date":"2022-05-21","value":0.542},{"date":"2022-05-22","value":0.515},{"date":"2022-05-24","value":0.513},{"date":"2022-05-26","value":0.457},{"date":"2022-05-28","value":0.496},{"date":"2022-05-29","value":0.549},{"date":"2022-05-31","value":0.626},{"date":"2022-06-01","value":0.553},{"date":"2022-06-02","value":0.588},{"date":"2022-06-03","value":0.561},{"date":"2022-06-05","value":0.61},{"date":"2022-06-08","value":0.64},{"date":"2022-06-09","value":0.635},{"date":"2022-06-10","value":0.574},{"date":"2022-06-11","value":0.546},{"date":"2022-06-12","value":0.485},{"date":"2022-06-14","value":0.513},{"date":"2022-06-15","value":0.535},{"date":"2022-06-16","value":0.485},{"date":"2022-06-18","value":0.456},{"date":"2022-06-20","value":0.491},{"date":"2022-06-22","value":0.46},{"date":"2022-06-24","value":0.498},{"date":"2022-06-27","value":0.485},{"date":"2022-06-29","value":0.468},{"date":"2022-07-01","value":0.45},{"date":"2022-07-03","value":0.468},{"date":"2022-07-05","value":0.46},{"date":"2022-07-07","value":0.477},{"date":"2022-07-09","value":0.466},{"date":"2022-07-11","value":0.438},{"date":"2022-07-13","value":0.418},{"date":"2022-07-14","value":0.44},{"date":"2022-07-16","value":0.457},{"date":"2022-07-18","value":0.449},{"date":"2022-07-20","value":0.516},{"date":"2022-07-22","value":0.502},{"date":"2022-07-24","value":0.515},{"date":"2022-07-26","value":0.47},{"date":"2022-07-29","value":0.515},{"date":"2022-07-31","value":0.527},{"date":"2022-08-01","value":0.498},{"date":"2022-08-04","value":0.513},{"date":"2022-08-05","value":0.516},{"date":"2022-08-08","value":0.537},{"date":"2022-08-10","value":0.537},{"date":"2022-08-12","value":0.56},{"date":"2022-08-14","value":0.57},{"date":"2022-08-16","value":0.557},{"date":"2022-08-18","value":0.54},{"date":"2022-08-19","value":0.513},{"date":"2022-08-20","value":0.452},{"date":"2022-08-22","value":0.464},{"date":"2022-08-25","value":0.464},{"date":"2022-08-26","value":0.432},{"date":"2022-08-28","value":0.431},{"date":"2022-08-30","value":0.453},{"date":"2022-09-01","value":0.447},{"date":"2022-09-03","value":0.457},{"date":"2022-09-05","value":0.503},{"date":"2022-09-07","value":0.464},{"date":"2022-09-10","value":0.513},{"date":"2022-09-12","value":0.51},{"date":"2022-09-14","value":0.466},{"date":"2022-09-16","value":0.481},{"date":"2022-09-18","value":0.486},{"date":"2022-09-19","value":0.449},{"date":"2022-09-21","value":0.442},{"date":"2022-09-24","value":0.461},{"date":"2022-09-26","value":0.446},{"date":"2022-09-29","value":0.438},{"date":"2022-10-02","value":0.424},{"date":"2022-10-04","value":0.435},{"date":"2022-10-08","value":0.422},{"date":"2022-10-10","value":0.407},{"date":"2022-10-12","value":0.382},{"date":"2022-10-13","value":0.371},{"date":"2022-10-15","value":0.365},{"date":"2022-10-17","value":0.372},{"date":"2022-10-20","value":0.351},{"date":"2022-10-21","value":0.342},{"date":"2022-10-23","value":0.354},{"date":"2022-10-25","value":0.402},{"date":"2022-10-26","value":0.403},{"date":"2022-10-28","value":0.391},{"date":"2022-10-30","value":0.421},{"date":"2022-11-01","value":0.404},{"date":"2022-11-03","value":0.388},{"date":"2022-11-05","value":0.427},{"date":"2022-11-06","value":0.403},{"date":"2022-11-08","value":0.363},{"date":"2022-11-09","value":0.318},{"date":"2022-11-10","value":0.368},{"date":"2022-11-13","value":0.332},{"date":"2022-11-16","value":0.338},{"date":"2022-11-17","value":0.326},{"date":"2022-11-19","value":0.328},{"date":"2022-11-21","value":0.306},{"date":"2022-11-24","value":0.318},{"date":"2022-11-27","value":0.314},{"date":"2022-11-29","value":0.308},{"date":"2022-12-01","value":0.32},{"date":"2022-12-04","value":0.323},{"date":"2022-12-07","value":0.312},{"date":"2022-12-10","value":0.311},{"date":"2022-12-13","value":0.315},{"date":"2022-12-15","value":0.301},{"date":"2022-12-17","value":0.268},{"date":"2022-12-19","value":0.255},{"date":"2022-12-23","value":0.258},{"date":"2022-12-27","value":0.266},{"date":"2022-12-29","value":0.25},{"date":"2022-12-31","value":0.245},{"date":"2023-01-03","value":0.257},{"date":"2023-01-07","value":0.276},{"date":"2023-01-09","value":0.28},{"date":"2023-01-10","value":0.321},{"date":"2023-01-13","value":0.332},{"date":"2023-01-15","value":0.353},{"date":"2023-01-18","value":0.346},{"date":"2023-01-20","value":0.328},{"date":"2023-01-22","value":0.365},{"date":"2023-01-25","value":0.376},{"date":"2023-01-27","value":0.36},{"date":"2023-01-30","value":0.385},{"date":"2023-02-01","value":0.399},{"date":"2023-02-02","value":0.377},{"date":"2023-02-06","value":0.404},{"date":"2023-02-09","value":0.385},{"date":"2023-02-11","value":0.399},{"date":"2023-02-13","value":0.36},{"date":"2023-02-15","value":0.361},{"date":"2023-02-18","value":0.42},{"date":"2023-02-20","value":0.39},{"date":"2023-02-22","value":0.406},{"date":"2023-02-24","value":0.402},{"date":"2023-02-26","value":0.382},{"date":"2023-02-28","value":0.364},{"date":"2023-03-02","value":0.368},{"date":"2023-03-04","value":0.353},{"date":"2023-03-05","value":0.354},{"date":"2023-03-07","value":0.338},{"date":"2023-03-09","value":0.332},{"date":"2023-03-11","value":0.312},{"date":"2023-03-13","value":0.308},{"date":"2023-03-15","value":0.344},{"date":"2023-03-17","value":0.326},{"date":"2023-03-19","value":0.34},{"date":"2023-03-22","value":0.335},{"date":"2023-03-24","value":0.372},{"date":"2023-03-26","value":0.354},{"date":"2023-03-28","value":0.347},{"date":"2023-03-30","value":0.379},{"date":"2023-04-02","value":0.399},{"date":"2023-04-04","value":0.385},{"date":"2023-04-07","value":0.392},{"date":"2023-04-09","value":0.384},{"date":"2023-04-10","value":0.385},{"date":"2023-04-12","value":0.402},{"date":"2023-04-14","value":0.406},{"date":"2023-04-16","value":0.453},{"date":"2023-04-18","value":0.435},{"date":"2023-04-20","value":0.443},{"date":"2023-04-23","value":0.384},{"date":"2023-04-25","value":0.396},{"date":"2023-04-26","value":0.385},{"date":"2023-04-29","value":0.41},{"date":"2023-05-02","value":0.393},{"date":"2023-05-05","value":0.39},{"date":"2023-05-08","value":0.395},{"date":"2023-05-10","value":0.379},{"date":"2023-05-11","value":0.368},{"date":"2023-05-13","value":0.363},{"date":"2023-05-15","value":0.371},{"date":"2023-05-17","value":0.365},{"date":"2023-05-20","value":0.371},{"date":"2023-05-21","value":0.375},{"date":"2023-05-24","value":0.368},{"date":"2023-05-26","value":0.361},{"date":"2023-05-27","value":0.371},{"date":"2023-05-29","value":0.358},{"date":"2023-06-01","value":0.383},{"date":"2023-06-04","value":0.376},{"date":"2023-06-06","value":0.371},{"date":"2023-06-08","value":0.378},{"date":"2023-06-10","value":0.356},{"date":"2023-06-11","value":0.352},{"date":"2023-06-13","value":0.312},{"date":"2023-06-15","value":0.275},{"date":"2023-06-17","value":0.274},{"date":"2023-06-20","value":0.262},{"date":"2023-06-23","value":0.262},{"date":"2023-06-25","value":0.276},{"date":"2023-06-27","value":0.293},{"date":"2023-06-28","value":0.294},{"date":"2023-06-30","value":0.287},{"date":"2023-07-01","value":0.279},{"date":"2023-07-03","value":0.267},{"date":"2023-07-05","value":0.29},{"date":"2023-07-08","value":0.297},{"date":"2023-07-11","value":0.28},{"date":"2023-07-14","value":0.29},{"date":"2023-07-15","value":0.292},{"date":"2023-07-16","value":0.293},{"date":"2023-07-17","value":0.357},{"date":"2023-07-18","value":0.329},{"date":"2023-07-21","value":0.314},{"date":"2023-07-23","value":0.324},{"date":"2023-07-25","value":0.31},{"date":"2023-07-27","value":0.318},{"date":"2023-07-28","value":0.306},{"date":"2023-07-31","value":0.314},{"date":"2023-08-02","value":0.318},{"date":"2023-08-04","value":0.294},{"date":"2023-08-06","value":0.293},{"date":"2023-08-09","value":0.294},{"date":"2023-08-11","value":0.303},{"date":"2023-08-13","value":0.293},{"date":"2023-08-16","value":0.287},{"date":"2023-08-18","value":0.276},{"date":"2023-08-20","value":0.257},{"date":"2023-08-22","value":0.271},{"date":"2023-08-25","value":0.258},{"date":"2023-08-26","value":0.268},{"date":"2023-08-28","value":0.262},{"date":"2023-08-31","value":0.273},{"date":"2023-09-02","value":0.257},{"date":"2023-09-05","value":0.257},{"date":"2023-09-08","value":0.258},{"date":"2023-09-10","value":0.243},{"date":"2023-09-13","value":0.253},{"date":"2023-09-16","value":0.249},{"date":"2023-09-19","value":0.255},{"date":"2023-09-21","value":0.246},{"date":"2023-09-24","value":0.244},{"date":"2023-09-28","value":0.247},{"date":"2023-09-30","value":0.267},{"date":"2023-10-02","value":0.261},{"date":"2023-10-06","value":0.265},{"date":"2023-10-09","value":0.25},{"date":"2023-10-12","value":0.247},{"date":"2023-10-15","value":0.25},{"date":"2023-10-18","value":0.244},{"date":"2023-10-20","value":0.257},{"date":"2023-10-22","value":0.282},{"date":"2023-10-25","value":0.29},{"date":"2023-10-28","value":0.296},{"date":"2023-10-31","value":0.304},{"date":"2023-11-01","value":0.329},{"date":"2023-11-03","value":0.332},{"date":"2023-11-05","value":0.363},{"date":"2023-11-07","value":0.368},{"date":"2023-11-09","value":0.386},{"date":"2023-11-11","value":0.385},{"date":"2023-11-13","value":0.36},{"date":"2023-11-14","value":0.379},{"date":"2023-11-17","value":0.368},{"date":"2023-11-18","value":0.384},{"date":"2023-11-20","value":0.358},{"date":"2023-11-22","value":0.388},{"date":"2023-11-25","value":0.395},{"date":"2023-11-27","value":0.379},{"date":"2023-11-29","value":0.377},{"date":"2023-12-02","value":0.399},{"date":"2023-12-04","value":0.407},{"date":"2023-12-06","value":0.456},{"date":"2023-12-08","value":0.513},{"date":"2023-12-09","value":0.56},{"date":"2023-12-10","value":0.594},{"date":"2023-12-12","value":0.551},{"date":"2023-12-13","value":0.667},{"date":"2023-12-16","value":0.601},{"date":"2023-12-18","value":0.6},{"date":"2023-12-20","value":0.576},{"date":"2023-12-21","value":0.635},{"date":"2023-12-24","value":0.593},{"date":"2023-12-25","value":0.632},{"date":"2023-12-27","value":0.59},{"date":"2023-12-29","value":0.61},{"date":"2023-12-31","value":0.595},{"date":"2024-01-01","value":0.622},{"date":"2024-01-03","value":0.56},{"date":"2024-01-04","value":0.557},{"date":"2024-01-06","value":0.53},{"date":"2024-01-07","value":0.513},{"date":"2024-01-08","value":0.496},{"date":"2024-01-10","value":0.582},{"date":"2024-01-13","value":0.548},{"date":"2024-01-14","value":0.527},{"date":"2024-01-16","value":0.535},{"date":"2024-01-19","value":0.515},{"date":"2024-01-21","value":0.478},{"date":"2024-01-24","value":0.467},{"date":"2024-01-26","value":0.485},{"date":"2024-01-28","value":0.496},{"date":"2024-01-30","value":0.513},{"date":"2024-02-01","value":0.499},{"date":"2024-02-03","value":0.513},{"date":"2024-02-05","value":0.494},{"date":"2024-02-06","value":0.502},{"date":"2024-02-08","value":0.529},{"date":"2024-02-10","value":0.551},{"date":"2024-02-12","value":0.56},{"date":"2024-02-14","value":0.609},{"date":"2024-02-17","value":0.61},{"date":"2024-02-19","value":0.631},{"date":"2024-02-22","value":0.593},{"date":"2024-02-24","value":0.583},{"date":"2024-02-26","value":0.593},{"date":"2024-02-28","value":0.621},{"date":"2024-02-29","value":0.629},{"date":"2024-03-01","value":0.699},{"date":"2024-03-03","value":0.741},{"date":"2024-03-04","value":0.77},{"date":"2024-03-05","value":0.695},{"date":"2024-03-07","value":0.742},{"date":"2024-03-09","value":0.718},{"date":"2024-03-11","value":0.776},{"date":"2024-03-13","value":0.763},{"date":"2024-03-15","value":0.721},{"date":"2024-03-17","value":0.68},{"date":"2024-03-19","value":0.588},{"date":"2024-03-22","value":0.615},{"date":"2024-03-24","value":0.643},{"date":"2024-03-26","value":0.664},{"date":"2024-03-28","value":0.663},{"date":"2024-03-30","value":0.645},{"date":"2024-04-01","value":0.601},{"date":"2024-04-03","value":0.571},{"date":"2024-04-05","value":0.582},{"date":"2024-04-08","value":0.614},{"date":"2024-04-11","value":0.548},{"date":"2024-04-14","value":0.468},{"date":"2024-04-17","value":0.445},{"date":"2024-04-19","value":0.468},{"date":"2024-04-20","value":0.502},{"date":"2024-04-22","value":0.513},{"date":"2024-04-25","value":0.477},{"date":"2024-04-27","value":0.464},{"date":"2024-04-30","value":0.443},{"date":"2024-05-03","value":0.467},{"date":"2024-05-06","value":0.455},{"date":"2024-05-07","value":0.443},{"date":"2024-05-09","value":0.463},{"date":"2024-05-11","value":0.439},{"date":"2024-05-14","value":0.432},{"date":"2024-05-16","value":0.482},{"date":"2024-05-18","value":0.443},{"date":"2024-05-20","value":0.502},{"date":"2024-05-23","value":0.48},{"date":"2024-05-25","value":0.46},{"date":"2024-05-27","value":0.468},{"date":"2024-05-30","value":0.446},{"date":"2024-06-02","value":0.449},{"date":"2024-06-04","value":0.461},{"date":"2024-06-07","value":0.459},{"date":"2024-06-09","value":0.438},{"date":"2024-06-13","value":0.446},{"date":"2024-06-15","value":0.416},{"date":"2024-06-17","value":0.417},{"date":"2024-06-19","value":0.385},{"date":"2024-06-22","value":0.383},{"date":"2024-06-25","value":0.389},{"date":"2024-06-27","value":0.39},{"date":"2024-06-30","value":0.385},{"date":"2024-07-03","value":0.418},{"date":"2024-07-05","value":0.354},{"date":"2024-07-08","value":0.349},{"date":"2024-07-10","value":0.374},{"date":"2024-07-11","value":0.396},{"date":"2024-07-13","value":0.442},{"date":"2024-07-16","value":0.445},{"date":"2024-07-19","value":0.425},{"date":"2024-07-21","value":0.446},{"date":"2024-07-24","value":0.41},{"date":"2024-07-27","value":0.417},{"date":"2024-07-29","value":0.404},{"date":"2024-07-31","value":0.39},{"date":"2024-08-02","value":0.393},{"date":"2024-08-03","value":0.363},{"date":"2024-08-05","value":0.318},{"date":"2024-08-07","value":0.326},{"date":"2024-08-08","value":0.352},{"date":"2024-08-10","value":0.349},{"date":"2024-08-12","value":0.335},{"date":"2024-08-15","value":0.329},{"date":"2024-08-18","value":0.336},{"date":"2024-08-20","value":0.371},{"date":"2024-08-23","value":0.395},{"date":"2024-08-26","value":0.368},{"date":"2024-08-27","value":0.351},{"date":"2024-08-30","value":0.36},{"date":"2024-09-01","value":0.335},{"date":"2024-09-03","value":0.321},{"date":"2024-09-06","value":0.315},{"date":"2024-09-08","value":0.34},{"date":"2024-09-12","value":0.361},{"date":"2024-09-15","value":0.332},{"date":"2024-09-18","value":0.351},{"date":"2024-09-21","value":0.358},{"date":"2024-09-24","value":0.388},{"date":"2024-09-26","value":0.402},{"date":"2024-09-28","value":0.4},{"date":"2024-10-01","value":0.346},{"date":"2024-10-03","value":0.345},{"date":"2024-10-06","value":0.357},{"date":"2024-10-09","value":0.34},{"date":"2024-10-11","value":0.351},{"date":"2024-10-14","value":0.364},{"date":"2024-10-18","value":0.345},{"date":"2024-10-20","value":0.365},{"date":"2024-10-23","value":0.349},{"date":"2024-10-25","value":0.326},{"date":"2024-10-28","value":0.343},{"date":"2024-10-30","value":0.356},{"date":"2024-11-01","value":0.343},{"date":"2024-11-02","value":0.357},{"date":"2024-11-03","value":0.338},{"date":"2024-11-05","value":0.327},{"date":"2024-11-06","value":0.338},{"date":"2024-11-08","value":0.43},{"date":"2024-11-09","value":0.485},{"date":"2024-11-10","value":0.513},{"date":"2024-11-11","value":0.613},{"date":"2024-11-13","value":0.571},{"date":"2024-11-15","value":0.7},{"date":"2024-11-16","value":0.741},{"date":"2024-11-18","value":0.738},{"date":"2024-11-19","value":0.824},{"date":"2024-11-21","value":0.922},{"date":"2024-11-23","value":1.066},{"date":"2024-11-25","value":0.95},{"date":"2024-11-27","value":1.033},{"date":"2024-11-29","value":1.077},{"date":"2024-12-01","value":1.15},{"date":"2024-12-02","value":1.2},{"date":"2024-12-04","value":1.188},{"date":"2024-12-05","value":1.162},{"date":"2024-12-06","value":1.228},{"date":"2024-12-08","value":1.194},{"date":"2024-12-09","value":1.005},{"date":"2024-12-10","value":1.024},{"date":"2024-12-12","value":1.123},{"date":"2024-12-14","value":1.062},{"date":"2024-12-15","value":1.098},{"date":"2024-12-17","value":1.05},{"date":"2024-12-18","value":0.95},{"date":"2024-12-19","value":0.881},{"date":"2024-12-22","value":0.883},{"date":"2024-12-25","value":0.934},{"date":"2024-12-27","value":0.869},{"date":"2024-12-30","value":0.888},{"date":"2025-01-01","value":0.844},{"date":"2025-01-03","value":0.95},{"date":"2025-01-04","value":1.088},{"date":"2025-01-05","value":1.07},{"date":"2025-01-07","value":1.092},{"date":"2025-01-09","value":0.99},{"date":"2025-01-10","value":0.905},{"date":"2025-01-12","value":0.995},{"date":"2025-01-14","value":0.944},{"date":"2025-01-16","value":1.074},{"date":"2025-01-18","value":1.131},{"date":"2025-01-20","value":0.992},{"date":"2025-01-21","value":1.007},{"date":"2025-01-23","value":0.982},{"date":"2025-01-26","value":0.976},{"date":"2025-01-27","value":0.94},{"date":"2025-01-29","value":0.918},{"date":"2025-01-31","value":0.959},{"date":"2025-02-01","value":0.89},{"date":"2025-02-02","value":0.81},{"date":"2025-02-05","value":0.746},{"date":"2025-02-07","value":0.707},{"date":"2025-02-09","value":0.682},{"date":"2025-02-12","value":0.782},{"date":"2025-02-14","value":0.81},{"date":"2025-02-17","value":0.771},{"date":"2025-02-18","value":0.809},{"date":"2025-02-20","value":0.755},{"date":"2025-02-21","value":0.774},{"date":"2025-02-23","value":0.77},{"date":"2025-02-26","value":0.68},{"date":"2025-02-27","value":0.647},{"date":"2025-03-01","value":0.634},{"date":"2025-03-03","value":1.135},{"date":"2025-03-04","value":0.858},{"date":"2025-03-06","value":0.973},{"date":"2025-03-08","value":0.816},{"date":"2025-03-11","value":0.671},{"date":"2025-03-13","value":0.735},{"date":"2025-03-15","value":0.703},{"date":"2025-03-17","value":0.746},{"date":"2025-03-18","value":0.704},{"date":"2025-03-20","value":0.703},{"date":"2025-03-23","value":0.732},{"date":"2025-03-24","value":0.745},{"date":"2025-03-26","value":0.73},{"date":"2025-03-27","value":0.738},{"date":"2025-03-29","value":0.674},{"date":"2025-03-30","value":0.663},{"date":"2025-04-01","value":0.675},{"date":"2025-04-03","value":0.64},{"date":"2025-04-05","value":0.66},{"date":"2025-04-06","value":0.607},{"date":"2025-04-07","value":0.574},{"date":"2025-04-09","value":0.56},{"date":"2025-04-10","value":0.63},{"date":"2025-04-11","value":0.61},{"date":"2025-04-12","value":0.659},{"date":"2025-04-14","value":0.638},{"date":"2025-04-16","value":0.61},{"date":"2025-04-18","value":0.627},{"date":"2025-04-20","value":0.621},{"date":"2025-04-22","value":0.682},{"date":"2025-04-24","value":0.721},{"date":"2025-04-26","value":0.705},{"date":"2025-04-29","value":0.705},{"date":"2025-04-30","value":0.685},{"date":"2025-05-02","value":0.705},{"date":"2025-05-05","value":0.663},{"date":"2025-05-06","value":0.678},{"date":"2025-05-08","value":0.771},{"date":"2025-05-10","value":0.838},{"date":"2025-05-12","value":0.805},{"date":"2025-05-15","value":0.783},{"date":"2025-05-17","value":0.76},{"date":"2025-05-20","value":0.744},{"date":"2025-05-22","value":0.809},{"date":"2025-05-23","value":0.749},{"date":"2025-05-26","value":0.76},{"date":"2025-05-28","value":0.752},{"date":"2025-05-29","value":0.707},{"date":"2025-05-30","value":0.686},{"date":"2025-06-02","value":0.689},{"date":"2025-06-05","value":0.627},{"date":"2025-06-08","value":0.671},{"date":"2025-06-10","value":0.717},{"date":"2025-06-11","value":0.663},{"date":"2025-06-14","value":0.627},{"date":"2025-06-16","value":0.634},{"date":"2025-06-18","value":0.607},{"date":"2025-06-20","value":0.599},{"date":"2025-06-22","value":0.551},{"date":"2025-06-24","value":0.588},{"date":"2025-06-26","value":0.556},{"date":"2025-06-28","value":0.577},{"date":"2025-07-01","value":0.543},{"date":"2025-07-03","value":0.6},{"date":"2025-07-05","value":0.574},{"date":"2025-07-06","value":0.588},{"date":"2025-07-08","value":0.602},{"date":"2025-07-10","value":0.671},{"date":"2025-07-11","value":0.738},{"date":"2025-07-15","value":0.746},{"date":"2025-07-16","value":0.821},{"date":"2025-07-17","value":0.827},{"date":"2025-07-20","value":0.902},{"date":"2025-07-22","value":0.905},{"date":"2025-07-25","value":0.838},{"date":"2025-07-28","value":0.783},{"date":"2025-07-30","value":0.713},{"date":"2025-08-01","value":0.699},{"date":"2025-08-03","value":0.755},{"date":"2025-08-05","value":0.727},{"date":"2025-08-06","value":0.788},{"date":"2025-08-08","value":0.802},{"date":"2025-08-10","value":0.774},{"date":"2025-08-11","value":0.905},{"date":"2025-08-14","value":0.945},{"date":"2025-08-15","value":0.922},{"date":"2025-08-16","value":0.949},{"date":"2025-08-17","value":0.847},{"date":"2025-08-18","value":0.88},{"date":"2025-08-20","value":0.93},{"date":"2025-08-22","value":0.91},{"date":"2025-08-23","value":0.838},{"date":"2025-08-24","value":0.863},{"date":"2025-08-26","value":0.852},{"date":"2025-08-28","value":0.827},{"date":"2025-08-30","value":0.816},{"date":"2025-09-01","value":0.802},{"date":"2025-09-02","value":0.835},{"date":"2025-09-04","value":0.81},{"date":"2025-09-06","value":0.833},{"date":"2025-09-08","value":0.869},{"date":"2025-09-10","value":0.894},{"date":"2025-09-13","value":0.929},{"date":"2025-09-15","value":0.866},{"date":"2025-09-18","value":0.924},{"date":"2025-09-19","value":0.891},{"date":"2025-09-21","value":0.885},{"date":"2025-09-23","value":0.808},{"date":"2025-09-26","value":0.764},{"date":"2025-09-27","value":0.791},{"date":"2025-09-29","value":0.808},{"date":"2025-10-01","value":0.838},{"date":"2025-10-03","value":0.87},{"date":"2025-10-05","value":0.838},{"date":"2025-10-07","value":0.87},{"date":"2025-10-08","value":0.821},{"date":"2025-10-09","value":0.816},{"date":"2025-10-10","value":0.635},{"date":"2025-10-12","value":0.634},{"date":"2025-10-13","value":0.728},{"date":"2025-10-15","value":0.671},{"date":"2025-10-18","value":0.625},{"date":"2025-10-20","value":0.663},{"date":"2025-10-22","value":0.625},{"date":"2025-10-25","value":0.657},{"date":"2025-10-27","value":0.681},{"date":"2025-10-28","value":0.643},{"date":"2025-10-30","value":0.603},{"date":"2025-11-01","value":0.612},{"date":"2025-11-03","value":0.549},{"date":"2025-11-05","value":0.522},{"date":"2025-11-07","value":0.576},{"date":"2025-11-09","value":0.571},{"date":"2025-11-10","value":0.592},{"date":"2025-11-12","value":0.555},{"date":"2025-11-14","value":0.533},{"date":"2025-11-15","value":0.513},{"date":"2025-11-16","value":0.499},{"date":"2025-11-18","value":0.475},{"date":"2025-11-20","value":0.474},{"date":"2025-11-22","value":0.418},{"date":"2025-11-24","value":0.415},{"date":"2025-11-28","value":0.435},{"date":"2025-12-01","value":0.413},{"date":"2025-12-02","value":0.386},{"date":"2025-12-05","value":0.45},{"date":"2025-12-07","value":0.416},{"date":"2025-12-09","value":0.417},{"date":"2025-12-11","value":0.464},{"date":"2025-12-13","value":0.41},{"date":"2025-12-16","value":0.388},{"date":"2025-12-19","value":0.368},{"date":"2025-12-20","value":0.377},{"date":"2025-12-23","value":0.371},{"date":"2025-12-27","value":0.345},{"date":"2025-12-29","value":0.37},{"date":"2025-12-31","value":0.352},{"date":"2026-01-01","value":0.335},{"date":"2026-01-03","value":0.393},{"date":"2026-01-05","value":0.421},{"date":"2026-01-08","value":0.399},{"date":"2026-01-10","value":0.39},{"date":"2026-01-12","value":0.388},{"date":"2026-01-13","value":0.421},{"date":"2026-01-15","value":0.396},{"date":"2026-01-17","value":0.377},{"date":"2026-01-20","value":0.353},{"date":"2026-01-22","value":0.36},{"date":"2026-01-24","value":0.34},{"date":"2026-01-26","value":0.36},{"date":"2026-01-28","value":0.318},{"date":"2026-01-31","value":0.29},{"date":"2026-02-02","value":0.298},{"date":"2026-02-05","value":0.287},{"date":"2026-02-06","value":0.246},{"date":"2026-02-07","value":0.274},{"date":"2026-02-10","value":0.257},{"date":"2026-02-12","value":0.29},{"date":"2026-02-15","value":0.285},{"date":"2026-02-18","value":0.275},{"date":"2026-02-20","value":0.285},{"date":"2026-02-23","value":0.262},{"date":"2026-02-25","value":0.297},{"date":"2026-02-27","value":0.282},{"date":"2026-03-02","value":0.265},{"date":"2026-03-03","value":0.276},{"date":"2026-03-05","value":0.258},{"date":"2026-03-08","value":0.251},{"date":"2026-03-11","value":0.264},{"date":"2026-03-14","value":0.267},{"date":"2026-03-16","value":0.29},{"date":"2026-03-19","value":0.271},{"date":"2026-03-22","value":0.253},{"date":"2026-03-25","value":0.271},{"date":"2026-03-28","value":0.246},{"date":"2026-03-31","value":0.241},{"date":"2026-04-02","value":0.248},{"date":"2026-04-05","value":0.251},{"date":"2026-04-07","value":0.262},{"date":"2026-04-09","value":0.255},{"date":"2026-04-11","value":0.239},{"date":"2026-04-14","value":0.246},{"date":"2026-04-16","value":0.26},{"date":"2026-04-19","value":0.244},{"date":"2026-04-22","value":0.251},{"date":"2026-04-26","value":0.253},{"date":"2026-04-29","value":0.246},{"date":"2026-05-03","value":0.251},{"date":"2026-05-06","value":0.268},{"date":"2026-05-08","value":0.273},{"date":"2026-05-10","value":0.282},{"date":"2026-05-13","value":0.268},{"date":"2026-05-16","value":0.254},{"date":"2026-05-18","value":0.248},{"date":"2026-05-21","value":0.251},{"date":"2026-05-23","value":0.244},{"date":"2026-05-27","value":0.239},{"date":"2026-05-30","value":0.236},{"date":"2026-06-01","value":0.232},{"date":"2026-06-03","value":0.201},{"date":"2026-06-05","value":0.158},{"date":"2026-06-08","value":0.171},{"date":"2026-06-10","value":0.162},{"date":"2026-06-11","value":0.172},{"date":"2026-06-14","value":0.183},{"date":"2026-06-17","value":0.166},{"date":"2026-06-19","value":0.165},{"date":"2026-06-22","value":0.154},{"date":"2026-06-25","value":0.145},{"date":"2026-06-28","value":0.146},{"date":"2026-07-01","value":0.157},{"date":"2026-07-04","value":0.193},{"date":"2026-07-06","value":0.182},{"date":"2026-07-08","value":0.168},{"date":"2026-07-10","value":0.167},{"date":"2026-07-13","value":0.159},{"date":"2026-07-15","value":0.165},{"date":"2026-07-18","value":0.168},{"date":"2026-07-20","value":0.174},{"date":"2026-07-23","value":0.166},{"date":"2026-07-25","value":0.165},{"date":"2026-07-28","value":0.158},{"date":"2026-07-29","value":0.173},{"date":"2026-07-31","value":0.169},{"date":"2026-08-02","value":0.19}]
},
"encoding":{"x":{"field":"date","type":"temporal","title":null,"scale":{"type":"utc","domain":[{"year":2022,"month":4,"date":18,"utc":true},{"year":2026,"month":8,"date":6,"utc":true}]},
"axis":{"values":[{"year":2022,"month":7,"date":1,"utc":true},{"year":2023,"month":1,"date":1,"utc":true},{"year":2023,"month":7,"date":1,"utc":true},{"year":2024,"month":1,"date":1,"utc":true},{"year":2024,"month":7,"date":1,"utc":true},{"year":2025,"month":1,"date":1,"utc":true},{"year":2025,"month":7,"date":1,"utc":true},{"year":2026,"month":1,"date":1,"utc":true},{"year":2026,"month":7,"date":1,"utc":true}],"grid":false,"domain":false,"ticks":false,"labelPadding":3,"labelOverlap":false,"labelFlush":false,"labelFont":"Liberation Sans","labelExpr":"utcmonth(datum.value)==0 ? utcFormat(datum.value,'%Y') : 'Jul'","labelFontSize":{"condition":{"test":"utcmonth(datum.value)==0","value":14},"value":23},"labelFontWeight":{"condition":{"test":"utcmonth(datum.value)==0","value":"bold"},"value":"normal"},"labelColor":{"condition":{"test":"utcmonth(datum.value)==0","value":"#bcbcd4"},"value":"#a0a6b8"}}}},
"layer":[
{"encoding":{"y":{"field":"value","type":"quantitative","title":null,"scale":{"domain":[-3.56,6],"nice":false,"zero":false},"axis":{"orient":"left","values":[6,4,2,0,-2,-3.56],"labelExpr":"datum.value + ''","grid":false,"ticks":false,"domain":true,"domainColor":"#f7931a","domainWidth":2,"labelColor":"#a0a6b8","labelFontSize":23,"labelFont":"Liberation Sans","labelPadding":8,"labelOverlap":false}}},
"layer":[
{"data":{"values":[{"date":"2023-11-18","value":1.25}]},"mark":{"type":"point","filled":true,"opacity":1,"color":"#e3e6f5","size":40000,"shape":"M-.98 .91L-.46 -.88L-.17 -.88L-.29 -.41L-.44 .09L-.26 .02L-.05 .26L-.57 .53L-.81 .91ZM-.17 -.88L.08 .5L.53 .9L.2 .86L.05 .6L-.29 -.43L-.46 -.88ZM-.17 -.88L.41 -.81L.84 -.64L.98 -.33L.93 -.12L.78 .05L.35 .17L.27 -.03L.6 -.19L.69 -.4L.57 -.57L.29 -.62L-.05 -.62Z"}},
{"data":{"values":[{"date":"2024-01-25","value":0.84,"label":"Alphractal"}]},"mark":{"type":"text","align":"left","baseline":"alphabetic","fontSize":158,"font":"Liberation Sans","color":"#e0e0e0"},"encoding":{"text":{"field":"label"}}},
{"data":{"name":"alpha"},"mark":{"type":"line","strokeWidth":5,"strokeJoin":"miter","interpolate":"linear","color":{"gradient":"linear","x1":0,"y1":0,"x2":0,"y2":1,"stops":[{"offset":0,"color":"#ff3c0a"},{"offset":0.3344,"color":"#ff3c0a"},{"offset":0.3344,"color":"#ff8f05"},{"offset":0.4107,"color":"#ff8f05"},{"offset":0.4107,"color":"#f2a90c"},{"offset":0.6285,"color":"#f2a90c"},{"offset":0.6285,"color":"#24c95f"},{"offset":0.8464,"color":"#24c95f"},{"offset":0.8464,"color":"#10c8f5"},{"offset":0.8682,"color":"#10c8f5"},{"offset":0.8682,"color":"#0a7cff"},{"offset":1,"color":"#0a7cff"}]}}},
{"data":{"values":[{"date":"2022-05-09","value":-2,"value2":-2.2},{"date":"2024-08-03","value":-2,"value2":-2.2}]},"mark":{"type":"rule","color":"#f2a90c","strokeWidth":5},"encoding":{"y2":{"field":"value2"}}},
{"data":{"values":[{"date":"2022-07-01","value":0,"value2":-0.04},{"date":"2023-01-01","value":0,"value2":-0.04},{"date":"2023-07-01","value":0,"value2":-0.04},{"date":"2024-01-01","value":0,"value2":-0.04},{"date":"2024-07-01","value":0,"value2":-0.04},{"date":"2025-01-01","value":0,"value2":-0.04},{"date":"2025-07-01","value":0,"value2":-0.04},{"date":"2026-01-01","value":0,"value2":-0.04},{"date":"2026-07-01","value":0,"value2":-0.04}]},"mark":{"type":"rule","color":"#666666","strokeWidth":1},"encoding":{"y2":{"field":"value2"}}},
{"data":{"values":[{"date":"2024-06-17","value":6.63,"label":"Cardano: Alpha Leverage Pressure"}]},"mark":{"type":"text","align":"center","baseline":"alphabetic","fontSize":50,"fontWeight":"bold","font":"Liberation Sans","color":"#000000"},"encoding":{"text":{"field":"label"}}},
{"transform":[{"filter":"false"}],"data":{"values":[{"date":"2024-01-01","value":0,"series":"Price"}]},"mark":{"type":"point","filled":true,"opacity":1},"encoding":{"color":{"field":"series","type":"nominal","scale":{"domain":["Alpha Leverage Pressure","Price"],"range":["#f7931a","#000000"]},"legend":{"orient":"none","legendX":1150,"legendY":-60,"direction":"horizontal","title":null,"labelFont":"Liberation Sans","labelFontSize":25,"labelColor":"#c0c0d8","labelLimit":500,"labelOffset":6,"columnPadding":12,"symbolSize":676,"symbolOpacity":1,"symbolStrokeWidth":0,"symbolType":"M-1 -.08H-.45A.45 .45 0 0 1 .45 -.08H1V.08H.45A.45 .45 0 0 1 -.45 .08H-1Z"}}}}
]},
{"encoding":{"y":{"field":"value","type":"quantitative","title":null,"scale":{"domain":[0.12726,1.256],"nice":false,"zero":false},"axis":{"orient":"right","zindex":1,"values":[1.256,1.2,1,0.8,0.6,0.4,0.2,0.12726],"labelExpr":"datum.value<1 && datum.value!=0.12726 ? '$'+format(datum.value,'.5f') : '$'+datum.value","grid":false,"ticks":false,"domain":true,"domainColor":"#000000","domainWidth":2,"labelColor":"#a0a6b8","labelFontSize":23,"labelFont":"Liberation Sans","labelPadding":8,"labelOverlap":false}}},
"layer":[
{"data":{"name":"price"},"mark":{"type":"line","strokeWidth":3,"color":"#000000","interpolate":"linear"}},
{"data":{"values":[{"date":"2026-08-06","date2":"2026-09-22","value":0.2041,"value2":0.1758}]},"mark":{"type":"rect","color":"#000000"},"encoding":{"x2":{"field":"date2"},"y2":{"field":"value2"}}},
{"data":{"values":[{"date":"2026-08-10","value":0.19,"label":"$0.19"}]},"mark":{"type":"text","align":"left","baseline":"middle","fontSize":22,"fontWeight":"bold","font":"Liberation Sans","color":"#ffffff"},"encoding":{"text":{"field":"label"}}}
]},
{"encoding":{"y":{"field":"value","type":"quantitative","axis":null,"scale":{"domain":[-3.56,6],"nice":false,"zero":false}}},
"layer":[
{"data":{"values":[{"date":"2022-04-18","date2":"2026-08-06","value":2.68}]},"mark":{"type":"rule","color":"#ff2a00","strokeWidth":2,"strokeDash":[2,2]},"encoding":{"x2":{"field":"date2"}}},
{"data":{"values":[{"date":"2022-04-18","date2":"2026-08-06","value":0}]},"mark":{"type":"rule","color":"#12c93a","strokeWidth":2,"strokeDash":[2,2]},"encoding":{"x2":{"field":"date2"}}},
{"data":{"values":[{"date":"2022-04-18","date2":"2026-08-06","value":-2.2}]},"mark":{"type":"rule","color":"#0a7cff","strokeWidth":2,"strokeDash":[2,2]},"encoding":{"x2":{"field":"date2"}}},
{"data":{"values":[{"date":"2024-06-11","value":2.76,"label":"High Leverage Risk - 2.7"}]},"mark":{"type":"text","fontSize":12.5,"font":"Liberation Sans","color":"#ff3c0a"},"encoding":{"text":{"field":"label"}}},
{"data":{"values":[{"date":"2024-06-11","value":-0.07,"label":"Neutral Leverage - 0"}]},"mark":{"type":"text","fontSize":12.5,"font":"Liberation Sans","color":"#22cc44"},"encoding":{"text":{"field":"label"}}},
{"data":{"values":[{"date":"2024-06-11","value":-2.26,"label":"Strong Deleveraging - -2.2"}]},"mark":{"type":"text","fontSize":12.5,"font":"Liberation Sans","color":"#0a7cff"},"encoding":{"text":{"field":"label"}}},
{"data":{"values":[{"date":"2022-03-02","date2":"2022-04-18","value":1.014,"value2":0.784}]},"mark":{"type":"rect","color":"#f7931a"},"encoding":{"x2":{"field":"date2"},"y2":{"field":"value2"}}},
{"data":{"values":[{"date":"2022-03-08","value":0.9,"label":"0.9"}]},"mark":{"type":"text","align":"left","baseline":"middle","fontSize":22,"fontWeight":"bold","font":"Liberation Sans","color":"#1a1a1a"},"encoding":{"text":{"field":"label"}}},
{"data":{"values":[{"date":"2026-07-29","value":6.66,"label":"2026-08-02"}]},"mark":{"type":"text","align":"left","baseline":"middle","fontSize":18,"fontWeight":"bold","font":"Liberation Sans","color":"#000000"},"encoding":{"text":{"field":"label"}}},
{"data":{"values":[{"date":"2022-03-22","value":-3.66,"label":"Alphractal.com"},{"date":"2026-01-10","value":-3.66,"label":"© 2026 Alphractal. All Rights Reserved."}]},"mark":{"type":"text","align":"left","baseline":"middle","fontSize":24,"font":"Liberation Sans","color":"#555b66"},"encoding":{"text":{"field":"label"}}},
{"data":{"values":[{"date":"2026-06-21","value":-3.83,"label":"@ Joao Wedson"}]},"mark":{"type":"text","align":"left","baseline":"middle","fontSize":24,"font":"Liberation Sans","color":"#cfcfcf"},"encoding":{"text":{"field":"label"}}},
{"data":{"values":[{"date":"2026-06-10","value":-3.83}]},"mark":{"type":"point","shape":"diamond","size":600,"filled":false,"color":"#d8d8d8","strokeWidth":2,"opacity":1}},
{"data":{"values":[{"date":"2023-09-24","value":6.74}]},"mark":{"type":"point","filled":true,"opacity":1,"color":"#0b45c7","size":1936,"shape":"M.17 0a.13 .13 0 1 0 .26 0a.13 .13 0 1 0 -.26 0M.02 .26a.13 .13 0 1 0 .26 0a.13 .13 0 1 0 -.26 0M-.28 .26a.13 .13 0 1 0 .26 0a.13 .13 0 1 0 -.26 0M-.43 0a.13 .13 0 1 0 .26 0a.13 .13 0 1 0 -.26 0M-.28 -.26a.13 .13 0 1 0 .26 0a.13 .13 0 1 0 -.26 0M.02 -.26a.13 .13 0 1 0 .26 0a.13 .13 0 1 0 -.26 0M.386 .275a.09 .09 0 1 0 .18 0a.09 .09 0 1 0 -.18 0M-.09 .55a.09 .09 0 1 0 .18 0a.09 .09 0 1 0 -.18 0M-.566 .275a.09 .09 0 1 0 .18 0a.09 .09 0 1 0 -.18 0M-.566 -.275a.09 .09 0 1 0 .18 0a.09 .09 0 1 0 -.18 0M-.09 -.55a.09 .09 0 1 0 .18 0a.09 .09 0 1 0 -.18 0M.386 -.275a.09 .09 0 1 0 .18 0a.09 .09 0 1 0 -.18 0M.72 0a.06 .06 0 1 0 .12 0a.06 .06 0 1 0 -.12 0M.33 .675a.06 .06 0 1 0 .12 0a.06 .06 0 1 0 -.12 0M-.45 .675a.06 .06 0 1 0 .12 0a.06 .06 0 1 0 -.12 0M-.84 0a.06 .06 0 1 0 .12 0a.06 .06 0 1 0 -.12 0M-.45 -.675a.06 .06 0 1 0 .12 0a.06 .06 0 1 0 -.12 0M.33 -.675a.06 .06 0 1 0 .12 0a.06 .06 0 1 0 -.12 0M.826 .5a.04 .04 0 1 0 .08 0a.04 .04 0 1 0 -.08 0M-.04 1a.04 .04 0 1 0 .08 0a.04 .04 0 1 0 -.08 0M-.906 .5a.04 .04 0 1 0 .08 0a.04 .04 0 1 0 -.08 0M-.906 -.5a.04 .04 0 1 0 .08 0a.04 .04 0 1 0 -.08 0M-.04 -1a.04 .04 0 1 0 .08 0a.04 .04 0 1 0 -.08 0M.826 -.5a.04 .04 0 1 0 .08 0a.04 .04 0 1 0 -.08 0"}}
]}
],
"resolve":{"scale":{"y":"independent"}}}
